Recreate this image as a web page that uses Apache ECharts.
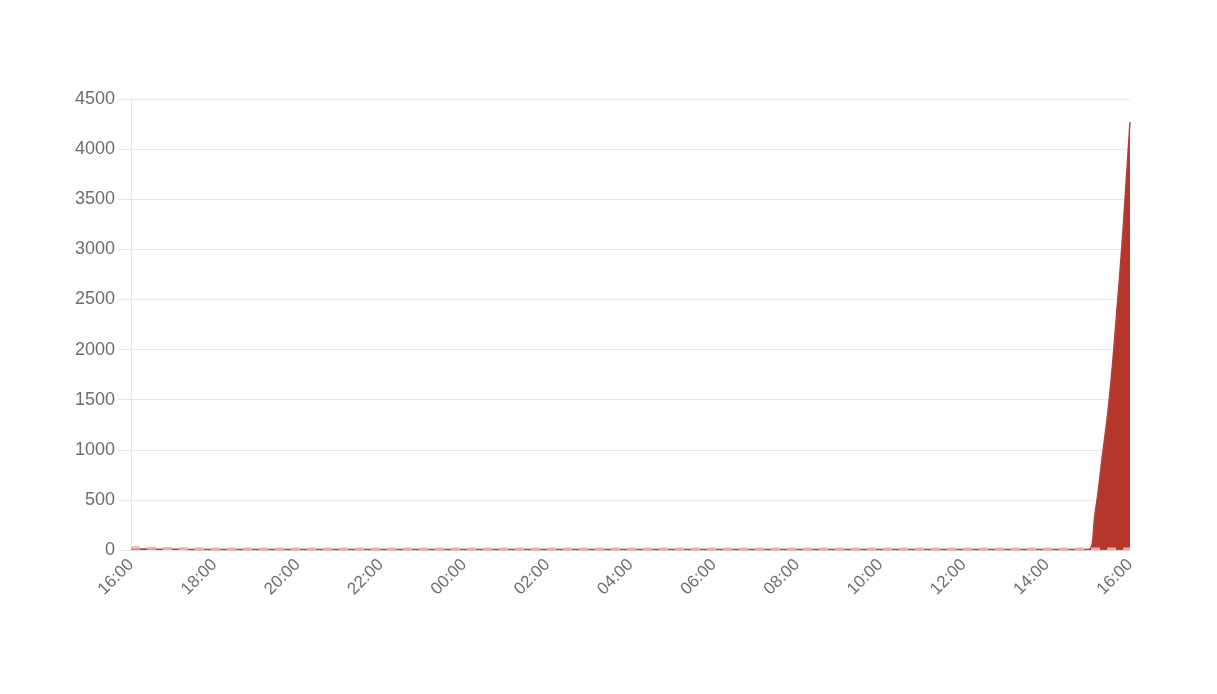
<!DOCTYPE html>
<html>
<head>
<meta charset="utf-8">
<script src="https://cdn.jsdelivr.net/npm/echarts@6/dist/echarts.min.js"></script>
<style>html,body{margin:0;padding:0;background:#fff}#c{width:1217px;height:694px}</style>
</head>
<body>
<div id="c"></div>
<script>
// 10-minute steps from 16:00 to 16:00 next day (145 points)
const times = [];
for (let i = 0; i <= 144; i++) {
  const m = (16 * 60 + i * 10) % 1440;
  times.push(String(Math.floor(m / 60)).padStart(2, '0') + ':' + String(m % 60).padStart(2, '0'));
}
// main series (area): near zero, then surge in last hour (145 values)
const trafficValues = [
  12,11,10,9,8,8,7,7,6,6,6,5,
  5,5,5,4,4,4,4,4,4,4,4,4,
  4,4,4,4,4,4,4,4,4,4,4,4,
  4,4,4,4,4,4,4,4,4,4,4,4,
  4,4,4,4,4,4,4,4,4,4,4,4,
  4,4,4,4,4,4,4,4,4,4,4,4,
  4,4,4,4,4,4,4,4,4,4,4,4,
  4,4,4,4,4,4,4,4,4,4,4,4,
  4,4,4,4,4,4,4,4,4,4,4,4,
  4,4,4,4,4,4,4,4,4,4,4,4,
  4,4,4,4,4,4,4,4,4,4,4,4,
  4,4,4,4,4,4,
  5,380,930,1500,2300,3200,4270
];
// secondary series (pink dashed line): small baseline values (145 values)
const baselineValues = [
  20,19,18,17,16,15,14,13,12,12,11,11,
  10,10,10,10,10,10,10,10,10,10,10,10,
  10,10,10,10,10,10,10,10,10,10,10,10,
  10,10,10,10,10,10,10,10,10,10,10,10,
  10,10,10,10,10,10,10,10,10,10,10,10,
  10,10,10,10,10,10,10,10,10,10,10,10,
  10,10,10,10,10,10,10,10,10,10,10,10,
  10,10,10,10,10,10,10,10,10,10,10,10,
  10,10,10,10,10,10,10,10,10,10,10,10,
  10,10,10,10,10,10,10,10,10,10,10,10,
  10,10,10,10,10,10,10,10,10,10,10,10,
  10,10,10,10,10,10,
  10,10,10,10,10,10,10
];
const yTicks = [0, 500, 1000, 1500, 2000, 2500, 3000, 3500, 4000, 4500];

const font = 'Liberation Sans, Arial, sans-serif';
const chart = echarts.init(document.getElementById('c'), null, {renderer: 'canvas'});
chart.setOption({
  animation: false,
  grid: {left: 131, right: 87, top: 99, bottom: 144},
  xAxis: {
    type: 'category',
    data: times,
    boundaryGap: false,
    axisLine: {show: true, lineStyle: {color: '#e6e6e6'}},
    axisTick: {show: false},
    axisLabel: {
      interval: 11, rotate: 45, color: '#6e6e6e', fontSize: 17,
      fontFamily: font, margin: 12
    },
    splitLine: {show: false}
  },
  yAxis: {
    type: 'value',
    min: yTicks[0], max: yTicks[yTicks.length - 1], interval: 500,
    axisLine: {show: true, lineStyle: {color: '#e6e6e6'}},
    axisTick: {show: true, length: 13, lineStyle: {color: '#e6e6e6'}},
    axisLabel: {color: '#6e6e6e', fontSize: 18, fontFamily: font, margin: 16, formatter: v => String(v)},
    splitLine: {lineStyle: {color: '#e9e9e9'}}
  },
  series: [
    {
      type: 'line', data: trafficValues, smooth: true, symbol: 'none',
      lineStyle: {color: '#b0443c', width: 1.5},
      areaStyle: {color: '#b5362a', opacity: 1},
      z: 2
    },
    {
      type: 'line', data: baselineValues, smooth: true, symbol: 'none',
      lineStyle: {color: '#f6aaa6', width: 3, type: [9, 7]},
      z: 3
    }
  ]
});
</script>
</body>
</html>
